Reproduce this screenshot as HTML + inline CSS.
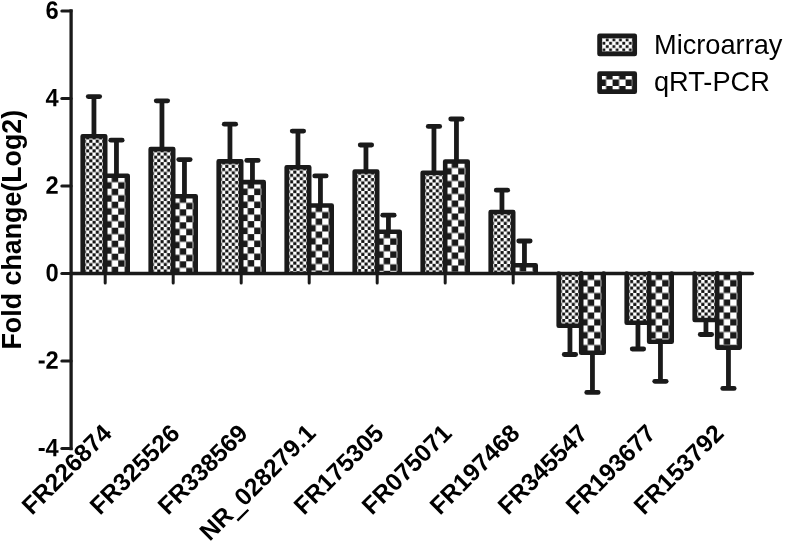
<!DOCTYPE html><html><head><meta charset="utf-8"><style>html,body{margin:0;padding:0;background:#fff;}svg{display:block;}text{font-family:"Liberation Sans",Arial,sans-serif;fill:#000;}</style></head><body>
<svg width="785" height="543" viewBox="0 0 785 543">
<defs>
<pattern id="m0" patternUnits="userSpaceOnUse" x="82.700" y="136.300" width="6.5" height="6.5"><rect width="6.5" height="6.5" fill="#fff"/><rect x="3.325" y="0.075" width="3.1" height="3.1" fill="#111"/><rect x="0.075" y="3.325" width="3.1" height="3.1" fill="#111"/></pattern>
<pattern id="q0" patternUnits="userSpaceOnUse" x="105.200" y="175.700" width="13.0" height="13.0"><rect width="13.0" height="13.0" fill="#fff"/><rect x="6.5" y="0" width="6.5" height="6.5" fill="#1a1a1a"/><rect x="0" y="6.5" width="6.5" height="6.5" fill="#1a1a1a"/></pattern>
<pattern id="m1" patternUnits="userSpaceOnUse" x="150.700" y="149.100" width="6.5" height="6.5"><rect width="6.5" height="6.5" fill="#fff"/><rect x="3.325" y="0.075" width="3.1" height="3.1" fill="#111"/><rect x="0.075" y="3.325" width="3.1" height="3.1" fill="#111"/></pattern>
<pattern id="q1" patternUnits="userSpaceOnUse" x="173.200" y="196.300" width="13.0" height="13.0"><rect width="13.0" height="13.0" fill="#fff"/><rect x="6.5" y="0" width="6.5" height="6.5" fill="#1a1a1a"/><rect x="0" y="6.5" width="6.5" height="6.5" fill="#1a1a1a"/></pattern>
<pattern id="m2" patternUnits="userSpaceOnUse" x="218.700" y="161.400" width="6.5" height="6.5"><rect width="6.5" height="6.5" fill="#fff"/><rect x="3.325" y="0.075" width="3.1" height="3.1" fill="#111"/><rect x="0.075" y="3.325" width="3.1" height="3.1" fill="#111"/></pattern>
<pattern id="q2" patternUnits="userSpaceOnUse" x="241.200" y="182.100" width="13.0" height="13.0"><rect width="13.0" height="13.0" fill="#fff"/><rect x="6.5" y="0" width="6.5" height="6.5" fill="#1a1a1a"/><rect x="0" y="6.5" width="6.5" height="6.5" fill="#1a1a1a"/></pattern>
<pattern id="m3" patternUnits="userSpaceOnUse" x="286.700" y="167.200" width="6.5" height="6.5"><rect width="6.5" height="6.5" fill="#fff"/><rect x="3.325" y="0.075" width="3.1" height="3.1" fill="#111"/><rect x="0.075" y="3.325" width="3.1" height="3.1" fill="#111"/></pattern>
<pattern id="q3" patternUnits="userSpaceOnUse" x="309.200" y="205.500" width="13.0" height="13.0"><rect width="13.0" height="13.0" fill="#fff"/><rect x="6.5" y="0" width="6.5" height="6.5" fill="#1a1a1a"/><rect x="0" y="6.5" width="6.5" height="6.5" fill="#1a1a1a"/></pattern>
<pattern id="m4" patternUnits="userSpaceOnUse" x="354.700" y="171.500" width="6.5" height="6.5"><rect width="6.5" height="6.5" fill="#fff"/><rect x="3.325" y="0.075" width="3.1" height="3.1" fill="#111"/><rect x="0.075" y="3.325" width="3.1" height="3.1" fill="#111"/></pattern>
<pattern id="q4" patternUnits="userSpaceOnUse" x="377.200" y="231.800" width="13.0" height="13.0"><rect width="13.0" height="13.0" fill="#fff"/><rect x="6.5" y="0" width="6.5" height="6.5" fill="#1a1a1a"/><rect x="0" y="6.5" width="6.5" height="6.5" fill="#1a1a1a"/></pattern>
<pattern id="m5" patternUnits="userSpaceOnUse" x="422.700" y="172.800" width="6.5" height="6.5"><rect width="6.5" height="6.5" fill="#fff"/><rect x="3.325" y="0.075" width="3.1" height="3.1" fill="#111"/><rect x="0.075" y="3.325" width="3.1" height="3.1" fill="#111"/></pattern>
<pattern id="q5" patternUnits="userSpaceOnUse" x="445.200" y="161.500" width="13.0" height="13.0"><rect width="13.0" height="13.0" fill="#fff"/><rect x="6.5" y="0" width="6.5" height="6.5" fill="#1a1a1a"/><rect x="0" y="6.5" width="6.5" height="6.5" fill="#1a1a1a"/></pattern>
<pattern id="m6" patternUnits="userSpaceOnUse" x="490.700" y="212.000" width="6.5" height="6.5"><rect width="6.5" height="6.5" fill="#fff"/><rect x="3.325" y="0.075" width="3.1" height="3.1" fill="#111"/><rect x="0.075" y="3.325" width="3.1" height="3.1" fill="#111"/></pattern>
<pattern id="q6" patternUnits="userSpaceOnUse" x="513.200" y="265.200" width="13.0" height="13.0"><rect width="13.0" height="13.0" fill="#fff"/><rect x="6.5" y="0" width="6.5" height="6.5" fill="#1a1a1a"/><rect x="0" y="6.5" width="6.5" height="6.5" fill="#1a1a1a"/></pattern>
<pattern id="m7" patternUnits="userSpaceOnUse" x="558.700" y="273.500" width="6.5" height="6.5"><rect width="6.5" height="6.5" fill="#fff"/><rect x="3.325" y="0.075" width="3.1" height="3.1" fill="#111"/><rect x="0.075" y="3.325" width="3.1" height="3.1" fill="#111"/></pattern>
<pattern id="q7" patternUnits="userSpaceOnUse" x="581.200" y="273.500" width="13.0" height="13.0"><rect width="13.0" height="13.0" fill="#fff"/><rect x="6.5" y="0" width="6.5" height="6.5" fill="#1a1a1a"/><rect x="0" y="6.5" width="6.5" height="6.5" fill="#1a1a1a"/></pattern>
<pattern id="m8" patternUnits="userSpaceOnUse" x="626.700" y="273.500" width="6.5" height="6.5"><rect width="6.5" height="6.5" fill="#fff"/><rect x="3.325" y="0.075" width="3.1" height="3.1" fill="#111"/><rect x="0.075" y="3.325" width="3.1" height="3.1" fill="#111"/></pattern>
<pattern id="q8" patternUnits="userSpaceOnUse" x="649.200" y="273.500" width="13.0" height="13.0"><rect width="13.0" height="13.0" fill="#fff"/><rect x="6.5" y="0" width="6.5" height="6.5" fill="#1a1a1a"/><rect x="0" y="6.5" width="6.5" height="6.5" fill="#1a1a1a"/></pattern>
<pattern id="m9" patternUnits="userSpaceOnUse" x="694.700" y="273.500" width="6.5" height="6.5"><rect width="6.5" height="6.5" fill="#fff"/><rect x="3.325" y="0.075" width="3.1" height="3.1" fill="#111"/><rect x="0.075" y="3.325" width="3.1" height="3.1" fill="#111"/></pattern>
<pattern id="q9" patternUnits="userSpaceOnUse" x="717.200" y="273.500" width="13.0" height="13.0"><rect width="13.0" height="13.0" fill="#fff"/><rect x="6.5" y="0" width="6.5" height="6.5" fill="#1a1a1a"/><rect x="0" y="6.5" width="6.5" height="6.5" fill="#1a1a1a"/></pattern>
<pattern id="lm" patternUnits="userSpaceOnUse" x="602.300" y="38.300" width="6.6" height="6.6"><rect width="6.6" height="6.6" fill="#fff"/><rect x="3.550" y="0.250" width="2.8" height="2.8" fill="#111"/><rect x="0.250" y="3.550" width="2.8" height="2.8" fill="#111"/></pattern>
<pattern id="lq" patternUnits="userSpaceOnUse" x="599.600" y="73.000" width="13.0" height="13.0"><rect width="13.0" height="13.0" fill="#fff"/><rect x="6.5" y="0" width="6.5" height="6.5" fill="#1a1a1a"/><rect x="0" y="6.5" width="6.5" height="6.5" fill="#1a1a1a"/></pattern>
</defs>
<rect x="82.70" y="136.30" width="22.5" height="137.20" fill="url(#m0)"/>
<path d="M82.70 273.5 V136.30 H105.20 V273.5" fill="none" stroke="#1a1a1a" stroke-width="4.6" stroke-linejoin="round" stroke-linecap="butt"/>
<rect x="105.20" y="175.70" width="22.5" height="97.80" fill="url(#q0)"/>
<path d="M105.20 273.5 V175.70 H127.70 V273.5" fill="none" stroke="#1a1a1a" stroke-width="4.6" stroke-linejoin="round" stroke-linecap="butt"/>
<rect x="150.70" y="149.10" width="22.5" height="124.40" fill="url(#m1)"/>
<path d="M150.70 273.5 V149.10 H173.20 V273.5" fill="none" stroke="#1a1a1a" stroke-width="4.6" stroke-linejoin="round" stroke-linecap="butt"/>
<rect x="173.20" y="196.30" width="22.5" height="77.20" fill="url(#q1)"/>
<path d="M173.20 273.5 V196.30 H195.70 V273.5" fill="none" stroke="#1a1a1a" stroke-width="4.6" stroke-linejoin="round" stroke-linecap="butt"/>
<rect x="218.70" y="161.40" width="22.5" height="112.10" fill="url(#m2)"/>
<path d="M218.70 273.5 V161.40 H241.20 V273.5" fill="none" stroke="#1a1a1a" stroke-width="4.6" stroke-linejoin="round" stroke-linecap="butt"/>
<rect x="241.20" y="182.10" width="22.5" height="91.40" fill="url(#q2)"/>
<path d="M241.20 273.5 V182.10 H263.70 V273.5" fill="none" stroke="#1a1a1a" stroke-width="4.6" stroke-linejoin="round" stroke-linecap="butt"/>
<rect x="286.70" y="167.20" width="22.5" height="106.30" fill="url(#m3)"/>
<path d="M286.70 273.5 V167.20 H309.20 V273.5" fill="none" stroke="#1a1a1a" stroke-width="4.6" stroke-linejoin="round" stroke-linecap="butt"/>
<rect x="309.20" y="205.50" width="22.5" height="68.00" fill="url(#q3)"/>
<path d="M309.20 273.5 V205.50 H331.70 V273.5" fill="none" stroke="#1a1a1a" stroke-width="4.6" stroke-linejoin="round" stroke-linecap="butt"/>
<rect x="354.70" y="171.50" width="22.5" height="102.00" fill="url(#m4)"/>
<path d="M354.70 273.5 V171.50 H377.20 V273.5" fill="none" stroke="#1a1a1a" stroke-width="4.6" stroke-linejoin="round" stroke-linecap="butt"/>
<rect x="377.20" y="231.80" width="22.5" height="41.70" fill="url(#q4)"/>
<path d="M377.20 273.5 V231.80 H399.70 V273.5" fill="none" stroke="#1a1a1a" stroke-width="4.6" stroke-linejoin="round" stroke-linecap="butt"/>
<rect x="422.70" y="172.80" width="22.5" height="100.70" fill="url(#m5)"/>
<path d="M422.70 273.5 V172.80 H445.20 V273.5" fill="none" stroke="#1a1a1a" stroke-width="4.6" stroke-linejoin="round" stroke-linecap="butt"/>
<rect x="445.20" y="161.50" width="22.5" height="112.00" fill="url(#q5)"/>
<path d="M445.20 273.5 V161.50 H467.70 V273.5" fill="none" stroke="#1a1a1a" stroke-width="4.6" stroke-linejoin="round" stroke-linecap="butt"/>
<rect x="490.70" y="212.00" width="22.5" height="61.50" fill="url(#m6)"/>
<path d="M490.70 273.5 V212.00 H513.20 V273.5" fill="none" stroke="#1a1a1a" stroke-width="4.6" stroke-linejoin="round" stroke-linecap="butt"/>
<rect x="513.20" y="265.20" width="22.5" height="8.30" fill="url(#q6)"/>
<path d="M513.20 273.5 V265.20 H535.70 V273.5" fill="none" stroke="#1a1a1a" stroke-width="4.6" stroke-linejoin="round" stroke-linecap="butt"/>
<rect x="558.70" y="273.50" width="22.5" height="52.30" fill="url(#m7)"/>
<path d="M558.70 273.5 V325.80 H581.20 V273.5" fill="none" stroke="#1a1a1a" stroke-width="4.6" stroke-linejoin="round" stroke-linecap="round"/>
<rect x="581.20" y="273.50" width="22.5" height="79.20" fill="url(#q7)"/>
<path d="M581.20 273.5 V352.70 H603.70 V273.5" fill="none" stroke="#1a1a1a" stroke-width="4.6" stroke-linejoin="round" stroke-linecap="round"/>
<rect x="626.70" y="273.50" width="22.5" height="49.30" fill="url(#m8)"/>
<path d="M626.70 273.5 V322.80 H649.20 V273.5" fill="none" stroke="#1a1a1a" stroke-width="4.6" stroke-linejoin="round" stroke-linecap="round"/>
<rect x="649.20" y="273.50" width="22.5" height="68.30" fill="url(#q8)"/>
<path d="M649.20 273.5 V341.80 H671.70 V273.5" fill="none" stroke="#1a1a1a" stroke-width="4.6" stroke-linejoin="round" stroke-linecap="round"/>
<rect x="694.70" y="273.50" width="22.5" height="46.50" fill="url(#m9)"/>
<path d="M694.70 273.5 V320.00 H717.20 V273.5" fill="none" stroke="#1a1a1a" stroke-width="4.6" stroke-linejoin="round" stroke-linecap="round"/>
<rect x="717.20" y="273.50" width="22.5" height="74.10" fill="url(#q9)"/>
<path d="M717.20 273.5 V347.60 H739.70 V273.5" fill="none" stroke="#1a1a1a" stroke-width="4.6" stroke-linejoin="round" stroke-linecap="round"/>
<line x1="93.95" y1="136.30" x2="93.95" y2="96.60" stroke="#1a1a1a" stroke-width="4.8"/>
<line x1="88.25" y1="96.60" x2="99.65" y2="96.60" stroke="#1a1a1a" stroke-width="4.8" stroke-linecap="round"/>
<line x1="116.45" y1="175.70" x2="116.45" y2="140.20" stroke="#1a1a1a" stroke-width="4.8"/>
<line x1="110.75" y1="140.20" x2="122.15" y2="140.20" stroke="#1a1a1a" stroke-width="4.8" stroke-linecap="round"/>
<line x1="161.95" y1="149.10" x2="161.95" y2="100.80" stroke="#1a1a1a" stroke-width="4.8"/>
<line x1="156.25" y1="100.80" x2="167.65" y2="100.80" stroke="#1a1a1a" stroke-width="4.8" stroke-linecap="round"/>
<line x1="184.45" y1="196.30" x2="184.45" y2="159.60" stroke="#1a1a1a" stroke-width="4.8"/>
<line x1="178.75" y1="159.60" x2="190.15" y2="159.60" stroke="#1a1a1a" stroke-width="4.8" stroke-linecap="round"/>
<line x1="229.95" y1="161.40" x2="229.95" y2="124.20" stroke="#1a1a1a" stroke-width="4.8"/>
<line x1="224.25" y1="124.20" x2="235.65" y2="124.20" stroke="#1a1a1a" stroke-width="4.8" stroke-linecap="round"/>
<line x1="252.45" y1="182.10" x2="252.45" y2="160.40" stroke="#1a1a1a" stroke-width="4.8"/>
<line x1="246.75" y1="160.40" x2="258.15" y2="160.40" stroke="#1a1a1a" stroke-width="4.8" stroke-linecap="round"/>
<line x1="297.95" y1="167.20" x2="297.95" y2="131.10" stroke="#1a1a1a" stroke-width="4.8"/>
<line x1="292.25" y1="131.10" x2="303.65" y2="131.10" stroke="#1a1a1a" stroke-width="4.8" stroke-linecap="round"/>
<line x1="320.45" y1="205.50" x2="320.45" y2="175.90" stroke="#1a1a1a" stroke-width="4.8"/>
<line x1="314.75" y1="175.90" x2="326.15" y2="175.90" stroke="#1a1a1a" stroke-width="4.8" stroke-linecap="round"/>
<line x1="365.95" y1="171.50" x2="365.95" y2="145.00" stroke="#1a1a1a" stroke-width="4.8"/>
<line x1="360.25" y1="145.00" x2="371.65" y2="145.00" stroke="#1a1a1a" stroke-width="4.8" stroke-linecap="round"/>
<line x1="388.45" y1="231.80" x2="388.45" y2="215.20" stroke="#1a1a1a" stroke-width="4.8"/>
<line x1="382.75" y1="215.20" x2="394.15" y2="215.20" stroke="#1a1a1a" stroke-width="4.8" stroke-linecap="round"/>
<line x1="433.95" y1="172.80" x2="433.95" y2="126.40" stroke="#1a1a1a" stroke-width="4.8"/>
<line x1="428.25" y1="126.40" x2="439.65" y2="126.40" stroke="#1a1a1a" stroke-width="4.8" stroke-linecap="round"/>
<line x1="456.45" y1="161.50" x2="456.45" y2="119.00" stroke="#1a1a1a" stroke-width="4.8"/>
<line x1="450.75" y1="119.00" x2="462.15" y2="119.00" stroke="#1a1a1a" stroke-width="4.8" stroke-linecap="round"/>
<line x1="501.95" y1="212.00" x2="501.95" y2="190.20" stroke="#1a1a1a" stroke-width="4.8"/>
<line x1="496.25" y1="190.20" x2="507.65" y2="190.20" stroke="#1a1a1a" stroke-width="4.8" stroke-linecap="round"/>
<line x1="524.45" y1="265.20" x2="524.45" y2="241.00" stroke="#1a1a1a" stroke-width="4.8"/>
<line x1="518.75" y1="241.00" x2="530.15" y2="241.00" stroke="#1a1a1a" stroke-width="4.8" stroke-linecap="round"/>
<line x1="569.95" y1="325.80" x2="569.95" y2="354.50" stroke="#1a1a1a" stroke-width="4.8"/>
<line x1="564.25" y1="354.50" x2="575.65" y2="354.50" stroke="#1a1a1a" stroke-width="4.8" stroke-linecap="round"/>
<line x1="592.45" y1="352.70" x2="592.45" y2="392.40" stroke="#1a1a1a" stroke-width="4.8"/>
<line x1="586.75" y1="392.40" x2="598.15" y2="392.40" stroke="#1a1a1a" stroke-width="4.8" stroke-linecap="round"/>
<line x1="637.95" y1="322.80" x2="637.95" y2="349.00" stroke="#1a1a1a" stroke-width="4.8"/>
<line x1="632.25" y1="349.00" x2="643.65" y2="349.00" stroke="#1a1a1a" stroke-width="4.8" stroke-linecap="round"/>
<line x1="660.45" y1="341.80" x2="660.45" y2="381.30" stroke="#1a1a1a" stroke-width="4.8"/>
<line x1="654.75" y1="381.30" x2="666.15" y2="381.30" stroke="#1a1a1a" stroke-width="4.8" stroke-linecap="round"/>
<line x1="705.95" y1="320.00" x2="705.95" y2="334.50" stroke="#1a1a1a" stroke-width="4.8"/>
<line x1="700.25" y1="334.50" x2="711.65" y2="334.50" stroke="#1a1a1a" stroke-width="4.8" stroke-linecap="round"/>
<line x1="728.45" y1="347.60" x2="728.45" y2="388.40" stroke="#1a1a1a" stroke-width="4.8"/>
<line x1="722.75" y1="388.40" x2="734.15" y2="388.40" stroke="#1a1a1a" stroke-width="4.8" stroke-linecap="round"/>
<line x1="71.1" y1="9.35" x2="71.1" y2="450.15" stroke="#1a1a1a" stroke-width="3.3"/>
<line x1="61.80" y1="11.00" x2="71.1" y2="11.00" stroke="#1a1a1a" stroke-width="3.0" stroke-linecap="round"/>
<text transform="translate(58.7,18.70) scale(0.96,1.02) rotate(0.3)" font-size="24.6" font-weight="bold" text-anchor="end">6</text>
<line x1="61.80" y1="98.50" x2="71.1" y2="98.50" stroke="#1a1a1a" stroke-width="3.0" stroke-linecap="round"/>
<text transform="translate(58.7,106.20) scale(0.96,1.02) rotate(0.3)" font-size="24.6" font-weight="bold" text-anchor="end">4</text>
<line x1="61.80" y1="186.00" x2="71.1" y2="186.00" stroke="#1a1a1a" stroke-width="3.0" stroke-linecap="round"/>
<text transform="translate(58.7,193.70) scale(0.96,1.02) rotate(0.3)" font-size="24.6" font-weight="bold" text-anchor="end">2</text>
<line x1="61.80" y1="273.50" x2="71.1" y2="273.50" stroke="#1a1a1a" stroke-width="3.0" stroke-linecap="round"/>
<text transform="translate(58.7,281.20) scale(0.96,1.02) rotate(0.3)" font-size="24.6" font-weight="bold" text-anchor="end">0</text>
<line x1="61.80" y1="361.00" x2="71.1" y2="361.00" stroke="#1a1a1a" stroke-width="3.0" stroke-linecap="round"/>
<text transform="translate(58.7,368.70) scale(0.96,1.02) rotate(0.3)" font-size="24.6" font-weight="bold" text-anchor="end">-2</text>
<line x1="61.80" y1="448.50" x2="71.1" y2="448.50" stroke="#1a1a1a" stroke-width="3.0" stroke-linecap="round"/>
<text transform="translate(58.7,456.20) scale(0.96,1.02) rotate(0.3)" font-size="24.6" font-weight="bold" text-anchor="end">-4</text>
<line x1="71.1" y1="273.5" x2="752.5" y2="273.5" stroke="#1a1a1a" stroke-width="3.3" stroke-linecap="round"/>
<line x1="105.20" y1="273.5" x2="105.20" y2="283.0" stroke="#1a1a1a" stroke-width="3.0" stroke-linecap="round"/>
<line x1="173.20" y1="273.5" x2="173.20" y2="283.0" stroke="#1a1a1a" stroke-width="3.0" stroke-linecap="round"/>
<line x1="241.20" y1="273.5" x2="241.20" y2="283.0" stroke="#1a1a1a" stroke-width="3.0" stroke-linecap="round"/>
<line x1="309.20" y1="273.5" x2="309.20" y2="283.0" stroke="#1a1a1a" stroke-width="3.0" stroke-linecap="round"/>
<line x1="377.20" y1="273.5" x2="377.20" y2="283.0" stroke="#1a1a1a" stroke-width="3.0" stroke-linecap="round"/>
<line x1="445.20" y1="273.5" x2="445.20" y2="283.0" stroke="#1a1a1a" stroke-width="3.0" stroke-linecap="round"/>
<line x1="513.20" y1="273.5" x2="513.20" y2="283.0" stroke="#1a1a1a" stroke-width="3.0" stroke-linecap="round"/>
<line x1="581.20" y1="273.5" x2="581.20" y2="283.0" stroke="#1a1a1a" stroke-width="3.0" stroke-linecap="round"/>
<line x1="649.20" y1="273.5" x2="649.20" y2="283.0" stroke="#1a1a1a" stroke-width="3.0" stroke-linecap="round"/>
<line x1="717.20" y1="273.5" x2="717.20" y2="283.0" stroke="#1a1a1a" stroke-width="3.0" stroke-linecap="round"/>
<text transform="translate(113.10,434.70) rotate(-45)" font-size="24.6" font-weight="bold" text-anchor="end">FR226874</text>
<text transform="translate(181.10,434.70) rotate(-45)" font-size="24.6" font-weight="bold" text-anchor="end">FR325526</text>
<text transform="translate(249.10,434.70) rotate(-45)" font-size="24.6" font-weight="bold" text-anchor="end">FR338569</text>
<text transform="translate(317.10,434.70) rotate(-45)" font-size="24.6" font-weight="bold" text-anchor="end">NR<tspan dy="1.8" stroke="#000" stroke-width="1.4">_</tspan><tspan dy="-1.8">028279.1</tspan></text>
<text transform="translate(385.10,434.70) rotate(-45)" font-size="24.6" font-weight="bold" text-anchor="end">FR175305</text>
<text transform="translate(453.10,434.70) rotate(-45)" font-size="24.6" font-weight="bold" text-anchor="end">FR075071</text>
<text transform="translate(521.10,434.70) rotate(-45)" font-size="24.6" font-weight="bold" text-anchor="end">FR197468</text>
<text transform="translate(589.10,434.70) rotate(-45)" font-size="24.6" font-weight="bold" text-anchor="end">FR345547</text>
<text transform="translate(657.10,434.70) rotate(-45)" font-size="24.6" font-weight="bold" text-anchor="end">FR193677</text>
<text transform="translate(725.10,434.70) rotate(-45)" font-size="24.6" font-weight="bold" text-anchor="end">FR153792</text>
<text transform="translate(20.6,349.5) rotate(-90)" font-size="26.8" font-weight="bold">Fold change(Log2)</text>
<rect x="599.6" y="35.8" width="35.1" height="18.1" fill="url(#lm)" stroke="#1a1a1a" stroke-width="4.7" stroke-linejoin="round"/>
<rect x="599.6" y="73.7" width="35.1" height="18" fill="url(#lq)" stroke="#1a1a1a" stroke-width="4.7" stroke-linejoin="round"/>
<text x="654" y="53.6" font-size="27.2">Microarray</text>
<text x="654" y="90.8" font-size="27.2">qRT-PCR</text>
</svg></body></html>
